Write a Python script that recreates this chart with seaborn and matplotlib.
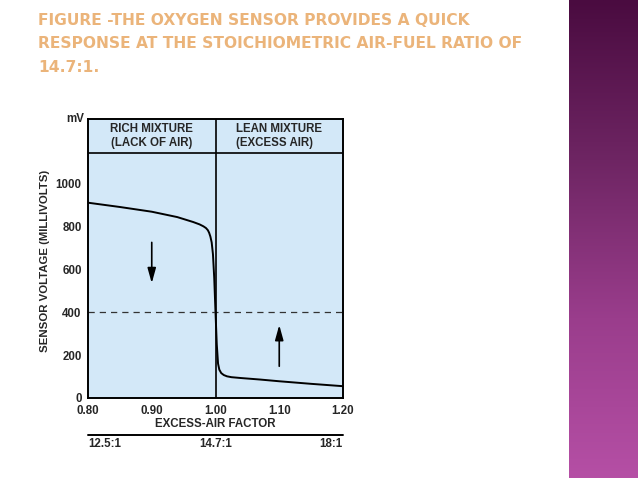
import numpy as np
import pandas as pd
import matplotlib.pyplot as plt
from matplotlib.colors import LinearSegmentedColormap
import seaborn as sns

# Curve: excess-air factor (lambda) vs sensor voltage (mV)
excess_air = [0.80, 0.85, 0.90, 0.94, 0.965, 0.975, 0.981, 0.985, 0.988, 0.990,
              0.992, 0.994, 0.996, 0.998, 1.000, 1.002, 1.004, 1.006, 1.009,
              1.013, 1.018, 1.025, 1.040, 1.070, 1.100, 1.150, 1.200]
sensor_mv = [910, 890, 868, 843, 820, 809, 800, 792, 782, 770,
             752, 725, 670, 560, 400, 250, 160, 132, 116,
             107, 101, 97, 93, 86, 78, 66, 55]

x_ticks = [0.80, 0.90, 1.00, 1.10, 1.20]
x_tick_labels = ["0.80", "0.90", "1.00", "1.10", "1.20"]
y_ticks = [0, 200, 400, 600, 800, 1000]
ratio_positions = [0.80, 1.00, 1.20]
ratio_labels = ["12.5:1", "14.7:1", "18:1"]
threshold_mv = 400
stoich_lambda = 1.00
header_bottom_mv = 1140
y_top_mv = 1300

title_lines = ["FIGURE -THE OXYGEN SENSOR PROVIDES A QUICK",
               "RESPONSE AT THE STOICHIOMETRIC AIR-FUEL RATIO OF",
               "14.7:1."]

df = pd.DataFrame({"lambda": excess_air, "mv": sensor_mv})

sns.set_style("white")
plt.rcParams["font.family"] = ["Liberation Sans", "DejaVu Sans"]
plt.rcParams["font.weight"] = "bold"

W, H = 638, 478
fig = plt.figure(figsize=(W / 100, H / 100), dpi=100)
fig.patch.set_facecolor("white")

# purple gradient bar on the right of the slide
bar_ax = fig.add_axes([569 / W, 0, 69 / W, 1])
purple = LinearSegmentedColormap.from_list("slide", ["#4a0b40", "#6e2563", "#9a3d8c", "#b54fa5"])
bar_ax.imshow(np.linspace(0, 1, 256).reshape(-1, 1), aspect="auto", cmap=purple)
bar_ax.axis("off")

# slide title
title_baselines = [25, 48, 72]
for line, yb in zip(title_lines, title_baselines):
    fig.text(38 / W, 1 - yb / H, line, color="#ebb47a", fontsize=11.2,
             fontweight="bold", family=["DejaVu Sans"], va="baseline", ha="left")

ax = fig.add_axes([88 / W, 80 / H, 255 / W, 279 / H])
ax.set_facecolor("#d3e8f8")

sns.lineplot(data=df, x="lambda", y="mv", ax=ax, color="black", linewidth=1.4,
             estimator=None, sort=False)

ax.axhline(threshold_mv, color="#333333", linewidth=0.9, linestyle=(0, (5, 4)))
ax.axvline(stoich_lambda, color="black", linewidth=1.2)
ax.axhline(header_bottom_mv, color="black", linewidth=1.2)

ax.set_xlim(0.80, 1.20)
ax.set_ylim(0, y_top_mv)
ax.set_xticks(x_ticks)
ax.set_xticklabels(x_tick_labels)
ax.set_yticks(y_ticks)
ax.tick_params(axis="x", direction="in", length=3, width=1, pad=5, labelsize=8.3)
ax.tick_params(axis="y", direction="out", length=3, width=1, pad=1.5, labelsize=8.3)
for lab in ax.get_xticklabels() + ax.get_yticklabels():
    lab.set_fontweight("bold")
for sp in ax.spines.values():
    sp.set_visible(True)
    sp.set_color("black")
    sp.set_linewidth(1.4)

ax.set_xlabel("EXCESS-AIR FACTOR", fontsize=8.3, fontweight="bold", labelpad=1)
ax.set_ylabel("")
fig.text(45 / W, 1 - 261 / H, "SENSOR VOLTAGE (MILLIVOLTS)", rotation=90,
         fontsize=8.2, fontweight="bold", ha="center", va="center")
ax.text(-0.015, 1.0, "mV", transform=ax.transAxes, ha="right", va="center",
        fontsize=8.3, fontweight="bold")

# header labels
header_y = (y_top_mv + header_bottom_mv) / 2
ax.text(0.90, header_y, "RICH MIXTURE\n(LACK OF AIR)", ha="center", va="center",
        fontsize=8.3, fontweight="bold", linespacing=1.2)
ax.text(1.10, header_y, "LEAN MIXTURE\n(EXCESS AIR)", ha="center", va="center",
        fontsize=8.3, fontweight="bold", linespacing=1.2, multialignment="left")

# direction arrows
ax.annotate("", xy=(0.90, 535), xytext=(0.90, 725),
            arrowprops=dict(arrowstyle="-|>,head_length=0.9,head_width=0.25",
                            color="black", lw=1.2, mutation_scale=10,
                            shrinkA=0, shrinkB=0))
ax.annotate("", xy=(1.10, 340), xytext=(1.10, 148),
            arrowprops=dict(arrowstyle="-|>,head_length=0.9,head_width=0.25",
                            color="black", lw=1.2, mutation_scale=10,
                            shrinkA=0, shrinkB=0))

# air-fuel ratio scale under the axis
scale_y = -37 / 279
ax.plot([0, 1], [scale_y, scale_y], transform=ax.transAxes, color="black",
        linewidth=1.4, clip_on=False)
trans = ax.get_xaxis_transform()
aligns = ["left", "center", "right"]
for pos, lab, ha in zip(ratio_positions, ratio_labels, aligns):
    ax.text(pos, -46 / 279, lab, transform=trans, ha=ha, va="center",
            fontsize=8.3, fontweight="bold")

fig.savefig("out.png", dpi=100)
